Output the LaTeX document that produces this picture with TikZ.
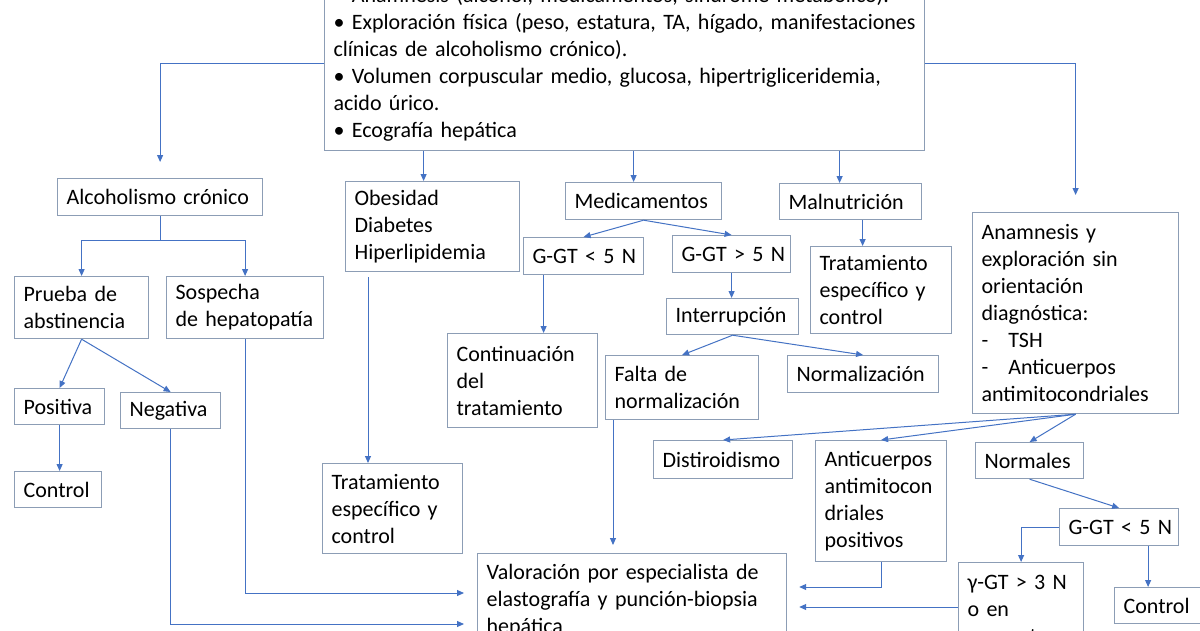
\documentclass[tikz,border=0pt]{standalone}
\usepackage{fontspec}
\usepackage{xcolor}
\setmainfont{Carlito}
\usetikzlibrary{calc,arrows.meta}

\definecolor{boxline}{RGB}{140,157,181}
\definecolor{arrowblue}{RGB}{68,114,196}

\tikzset{
    box/.style={draw=boxline, line width=1.2pt, anchor=north west, align=left,
        inner xsep=9pt, inner ysep=2pt, font=\fontsize{22pt}{27pt}\selectfont},
    arr/.style={draw=arrowblue, line width=1pt, -{Triangle[length=7pt,width=6pt]}},
}

\begin{document}
\begin{tikzpicture}[x=1pt, y=-1pt]
            \useasboundingbox (0, 0) rectangle (1200, 630);
            \fill[white] (0, 0) rectangle (1200, 630);
            \clip (0, 0) rectangle (1200, 630);

            \node[box, text width=582, minimum height=174] (top) at (324, -24) {%
                • Anamnesis (alcohol, medicamentos, síndrome metabólico).\\
                • Exploración física (peso, estatura, TA, hígado, manifestaciones\\
                clínicas de alcoholismo crónico).\\
                • Volumen corpuscular medio, glucosa, hipertrigliceridemia,\\
                acido úrico.\\
                • Ecografía hepática};

            \node[box, text width=187, minimum height=37] (alc) at (57, 178) {Alcoholismo~crónico};
            \node[box, text width=156, minimum height=90] (obes) at (345, 181) {Obesidad\\Diabetes\\Hiperlipidemia};
            \node[box, text width=138, minimum height=37] (med) at (565, 182) {Medicamentos};
            \node[box, text width=124, minimum height=36] (mal) at (779, 183) {Malnutrición};
            \node[box, text width=188, minimum height=201] (anam) at (972, 212) {Anamnesis~y\\exploración~sin\\orientación\\diagnóstica:\\-\hspace{20pt}TSH\\-\hspace{20pt}Anticuerpos\\antimitocondriales};

            \node[box, text width=116, minimum height=62] (prueba) at (14, 276) {Prueba~de\\abstinencia};
            \node[box, text width=139, minimum height=62] (sosp) at (166, 276) {Sospecha\\de~hepatopatía};
            \node[box, text width=102, minimum height=37] (ggtA) at (523, 237) {\mbox{G-GT < 5 N}};
            \node[box, text width=100, minimum height=37] (ggtB) at (672, 235) {\mbox{G-GT > 5 N}};
            \node[box, text width=123, minimum height=87] (trat2) at (810, 246) {Tratamiento\\específico~y\\control};
            \node[box, text width=114, minimum height=36] (inter) at (666, 298) {Interrupción};
            \node[box, text width=132, minimum height=94] (cont) at (447, 333) {Continuación\\del\\tratamiento};
            \node[box, text width=135, minimum height=64] (falta) at (605, 355) {Falta~de\\normalización};
            \node[box, text width=133, minimum height=37] (norm) at (787, 355) {Normalización};

            \node[box, text width=72, minimum height=36] (pos) at (14, 388) {Positiva};
            \node[box, text width=82, minimum height=36] (neg) at (120, 392) {Negativa};
            \node[box, text width=69, minimum height=36] (ctlA) at (14, 471) {Control};
            \node[box, text width=122, minimum height=90] (trat1) at (322, 463) {Tratamiento\\específico~y\\control};

            \node[box, text width=121, minimum height=38] (dist) at (653, 440) {Distiroidismo};
            \node[box, text width=113, minimum height=121] (anti) at (815, 440) {Anticuerpos\\antimitocon\\driales\\positivos};
            \node[box, text width=90, minimum height=36] (nml) at (975, 442) {Normales};
            \node[box, text width=101, minimum height=37] (ggtC) at (1059, 508) {\mbox{G-GT < 5 N}};
            \node[box, text width=107, minimum height=94] (gam) at (958, 562) {\mbox{γ-GT > 3 N}\\o~en\\aumento};
            \node[box, text width=77, minimum height=36] (ctlB) at (1114, 587) {Control};
            \node[box, text width=291, minimum height=94] (val) at (477, 553) {Valoración por especialista de\\elastografía y punción-biopsia\\hepática};

            \draw[arr, shorten >=16pt] (top.west) -| (alc.north);
            \draw[arr, shorten >=17pt] (top.east) -| (anam.north);
            \draw[arr] ([xshift=-9pt]obes.north |- top.south) -- ([xshift=-9pt]obes.north);
            \draw[arr] ([xshift=-10pt]med.north |- top.south) -- ([xshift=-10pt]med.north);
            \draw[arr] ([xshift=-11pt]mal.north |- top.south) -- ([xshift=-11pt]mal.north);

            \draw[arr] (alc.south) -- ++(0, 24) -| (prueba.north);
            \draw[arr] (alc.south) -- ++(0, 24) -| (sosp.north);
            \draw[arr] (prueba.south) -- (pos.north);
            \draw[arr] (prueba.south) -- (neg.north);
            \draw[arr] (pos.south) -- (pos.south |- ctlA.north);
            \draw[arr, shorten >=13pt] (sosp.south) |- ([yshift=-40pt]val.north west);
            \draw[arr, shorten >=13pt] (neg.south) |- ([yshift=-71pt]val.north west);
            \draw[arr, shorten <=5pt] ([xshift=23pt]obes.south west) -- ([xshift=23pt]obes.south west |- trat1.north);

            \draw[arr] (med.south) -- (ggtA.north);
            \draw[arr] (med.south) -- (ggtB.north);
            \draw[arr] ([xshift=-40pt]ggtA.south) -- ([xshift=-40pt]ggtA.south |- cont.north);
            \draw[arr] (ggtB.south) -- (ggtB.south |- inter.north);
            \draw[arr] (inter.south) -- (falta.north);
            \draw[arr] (inter.south) -- (norm.north);
            \draw[arr] ([xshift=12pt]mal.south) -- ([xshift=12pt]mal.south |- trat2.north);
            \draw[arr, shorten >=8pt] ([xshift=8pt]falta.south west) -- ([xshift=8pt]falta.south west |- val.north);

            \draw[arr] (anam.south) -- (dist.north);
            \draw[arr] (anam.south) -- (anti.north);
            \draw[arr] (anam.south) -- (nml.north);
            \draw[arr] (nml.south) -- (ggtC.north);
            \draw[arr] (ggtC.west) -| (gam.north);
            \draw[arr] ([xshift=29pt]ggtC.south) -- ([xshift=29pt]ggtC.south |- ctlB.north);
            \draw[arr, shorten >=12pt] (anti.south) |- ([yshift=-34pt]val.north east);
            \draw[arr, shorten >=12pt] ([yshift=-45pt]gam.north west) -- ([yshift=-45pt]gam.north west -| val.east);
\end{tikzpicture}
\end{document}
